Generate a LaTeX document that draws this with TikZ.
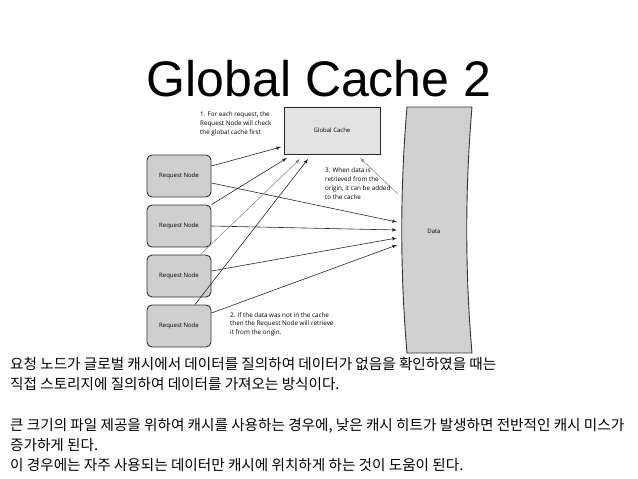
\documentclass[tikz,border=0pt]{standalone}
\usepackage{fontspec}
\setmainfont{Open Sans}
\newfontfamily\titlefont{Liberation Sans}
\newfontfamily\krfont{Noto Sans CJK KR}
\usetikzlibrary{positioning}

\begin{document}
\begin{tikzpicture}[x=1pt, y=-1pt, node distance={50pt},
        req/.style = {draw=black!80, line width=0.9pt, fill=black!19, rounded corners=5pt,
                      minimum width=64pt, minimum height=42pt, font=\fontsize{6}{7}\selectfont},
        note/.style = {align=left, anchor=north west, inner sep=0pt,
                       font=\fontsize{6.3}{8.8}\selectfont},
        line/.style = {draw=black!85, line width=0.6pt, -latex},
        faint/.style = {draw=black!45, line width=0.6pt, -latex},
        kr/.style = {anchor=base west, inner sep=0pt, font=\krfont\fontsize{14.6}{16}\selectfont}]
            \useasboundingbox (0,0) rectangle (638,479);

            \node[anchor=base, inner sep=0pt, font=\titlefont\fontsize{50}{60}\selectfont] (title) at (319,96) {Global Cache 2};

            \node[draw=black!85, line width=0.9pt, fill=black!11, minimum width=96pt, minimum height=47pt,
                  font=\fontsize{6}{7}\selectfont] (gc) at (332,130.5) {Global Cache};

            % the data store
            \draw[draw=black!80, line width=0.9pt, fill=black!18] (407,107) .. controls (400,189) and (400,271) .. (407,353)
                -- (472,353) .. controls (465,271) and (465,189) .. (472,107) -- cycle;
            \node[font=\fontsize{6}{7}\selectfont] (data) at (434,231) {Data};

            \node[req] (1) at (179,176) {Request Node};
            \node[req] (2) [below of=1] {Request Node};
            \node[req] (3) [below of=2] {Request Node};
            \node[req] (4) [below of=3] {Request Node};

            \coordinate (d1) at (397,222);
            \coordinate (d2) at (397,230);
            \coordinate (d3) at (397,238);
            \coordinate (d4) at (397,245);
            \coordinate (g1) at (281,147);
            \coordinate (g2) at (287,158);
            \coordinate (g3) at (300,159);
            \coordinate (g4) at (308,159);
            \coordinate (g5) at (360,158);
            \coordinate (ds) at (398,194);

            \draw[line] (1.east |- 0,166) -- (g1);
            \draw[line] (1.east |- 0,183) -- (d1);
            \draw[line] (2.north east) -- (g2);
            \draw[line] (2.east |- 0,226) -- (d2);
            \draw[faint] (3.north east) ++(-11,0) -- (g3);
            \draw[line] (3.east |- 0,271) -- (d3);
            \draw[line] (4.north) ++(16,0) -- (g4);
            \draw[line] (4.east |- 0,313) -- (d4);
            \draw[faint] (ds) -- (g5);

            \node[note] (n1) at (200,112) {1. For each request, the\\Request Node will check\\the global cache first};
            \node[note] (n3) at (325,168) {3. When data is\\retrieved from the\\origin, it can be added\\to the cache};
            \node[note] (n2) at (230,312) {2. If the data was not in the cache\\then the Request Node will retrieve\\it from the origin.};

            \node[kr] (t1) at (10,369) {요청 노드가 글로벌 캐시에서 데이터를 질의하여 데이터가 없음을 확인하였을 때는};
            \node[kr] (t2) at (10,389) {직접 스토리지에 질의하여 데이터를 가져오는 방식이다.};
            \node[kr] (t3) at (10,430) {큰 크기의 파일 제공을 위하여 캐시를 사용하는 경우에, 낮은 캐시 히트가 발생하면 전반적인 캐시 미스가};
            \node[kr] (t4) at (10,450) {증가하게 된다.};
            \node[kr] (t5) at (10,470) {이 경우에는 자주 사용되는 데이터만 캐시에 위치하게 하는 것이 도움이 된다.};
        \end{tikzpicture}
\end{document}
